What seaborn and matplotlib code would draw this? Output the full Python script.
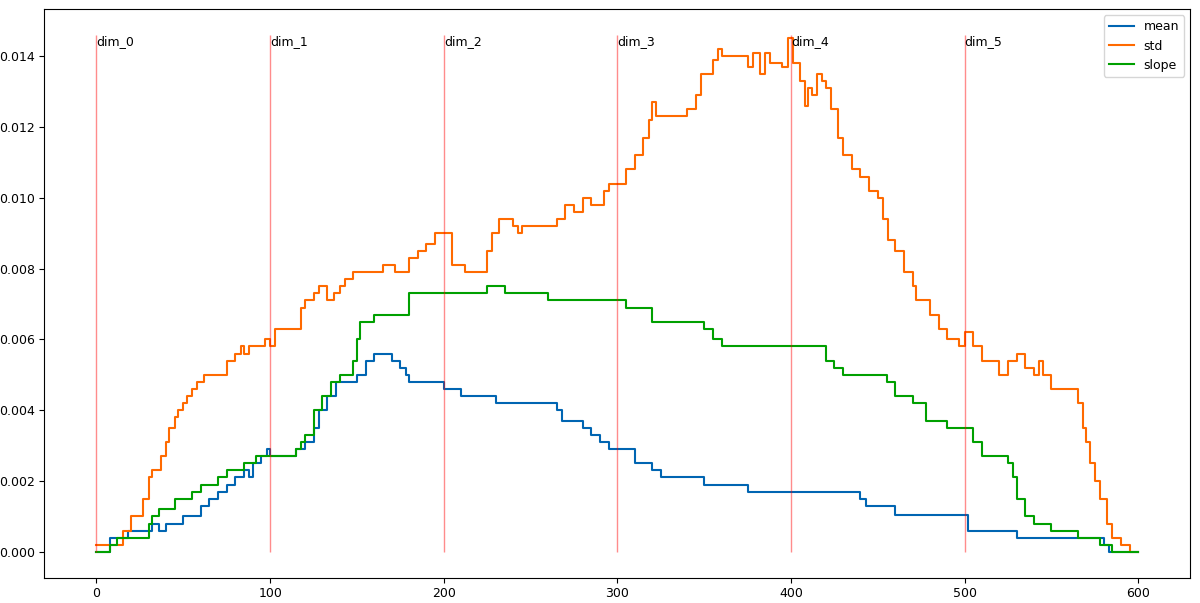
import matplotlib
matplotlib.use("Agg")
import matplotlib.pyplot as plt
import seaborn as sns
import pandas as pd

mean_x = [0,8,18,32,36,40,50,60,65,70,75,80,85,88,90,95,98,100,115,120,125,128,133,138,150,155,160,170,175,178,180,200,210,230,265,268,280,285,290,295,310,320,325,350,375,440,443,460,502,530,580,583,600]
mean_y = [0,.0004,.0006,.0008,.0006,.0008,.001,.0013,.0015,.0017,.0019,.0021,.0023,.0021,.0025,.0027,.0029,.0027,.0029,.0031,.0035,.004,.0044,.0048,.005,.0054,.0056,.0054,.0052,.005,.0048,.0046,.0044,.0042,.0040,.0037,.0035,.0033,.0031,.0029,.0025,.0023,.0021,.0019,.0017,.0015,.0013,.00105,.0006,.0004,.0002,0,0]

std_x = [0,15,20,27,30,32,37,40,42,45,47,50,52,55,58,62,75,80,83,85,88,97,100,103,118,120,125,128,133,137,140,143,148,165,172,180,185,190,195,205,212,225,228,232,240,243,245,265,270,275,280,285,292,295,305,310,315,318,320,322,340,345,348,355,358,360,375,378,382,385,388,395,398,401,405,408,410,412,415,418,420,423,427,430,435,440,445,450,453,456,460,465,470,472,480,485,490,497,500,505,510,520,525,530,535,540,543,545,550,565,568,570,572,575,578,582,585,590,595,600]
std_y = [.0002,.0006,.001,.0015,.0021,.0023,.0027,.0031,.0035,.0038,.004,.0042,.0044,.0046,.0048,.005,.0054,.0056,.0058,.0056,.0058,.006,.0058,.0063,.0069,.0071,.0073,.0075,.0071,.0073,.0075,.0077,.0079,.0081,.0079,.0083,.0085,.0087,.009,.0081,.0079,.0085,.009,.0094,.0092,.009,.0092,.0094,.0098,.0096,.01,.0098,.0102,.0104,.0108,.0112,.0117,.0122,.0127,.0123,.0125,.0129,.0135,.0139,.0142,.014,.0137,.0141,.0135,.0141,.0138,.0137,.0145,.0138,.0133,.0126,.0131,.0129,.0135,.0133,.0131,.0125,.0117,.0112,.0108,.0106,.0102,.01,.0094,.0088,.0085,.0079,.0075,.0071,.0067,.0063,.006,.0058,.0062,.0058,.0054,.005,.0054,.0056,.0052,.005,.0054,.005,.0046,.0042,.0035,.0031,.0025,.002,.0015,.0008,.0004,.0002,0,0]

slope_x = [0,8,12,30,32,36,45,55,60,70,75,85,92,115,118,120,125,130,135,140,148,150,152,160,180,225,235,260,305,320,350,355,360,420,425,430,455,460,470,478,490,505,510,525,528,530,535,540,550,565,578,585,600]
slope_y = [0,.0002,.0004,.0008,.001,.0012,.0015,.0017,.0019,.0021,.0023,.0025,.0027,.0029,.0031,.0033,.004,.0044,.0048,.005,.0054,.006,.0065,.0067,.0073,.0075,.0073,.0071,.0069,.0065,.0063,.006,.0058,.0054,.0052,.005,.0048,.0044,.0042,.0037,.0035,.0031,.0027,.0025,.0021,.0015,.001,.0008,.0006,.0004,.0002,0,0]

dims = ["dim_0","dim_1","dim_2","dim_3","dim_4","dim_5"]
dim_pos = [0,100,200,300,400,500]

df = pd.concat([
    pd.DataFrame({"x": mean_x, "y": mean_y, "s": "mean"}),
    pd.DataFrame({"x": std_x, "y": std_y, "s": "std"}),
    pd.DataFrame({"x": slope_x, "y": slope_y, "s": "slope"}),
])

fig, ax = plt.subplots(figsize=(12, 6.03), dpi=100)
sns.lineplot(data=df, x="x", y="y", hue="s", palette=["#0065b2", "#ff6a00", "#00a000"],
             drawstyle="steps-post", ax=ax, linewidth=1.5, estimator=None)
ymax = max(std_y) + 0.0001
for p, d in zip(dim_pos, dims):
    ax.vlines(p, 0, ymax, color="red", alpha=0.45, linewidth=1)
    ax.text(p, ymax, d, fontsize=9, va="top", ha="left")
ax.set_xlabel("")
ax.set_ylabel("")
ax.set_xlim(-30, 630)
ax.set_xticks([0,100,200,300,400,500,600])
ax.tick_params(labelsize=9)
ax.legend(loc="upper right", fontsize=9)
fig.subplots_adjust(left=0.037, right=0.992, top=0.985, bottom=0.042)
fig.savefig("out.png")
